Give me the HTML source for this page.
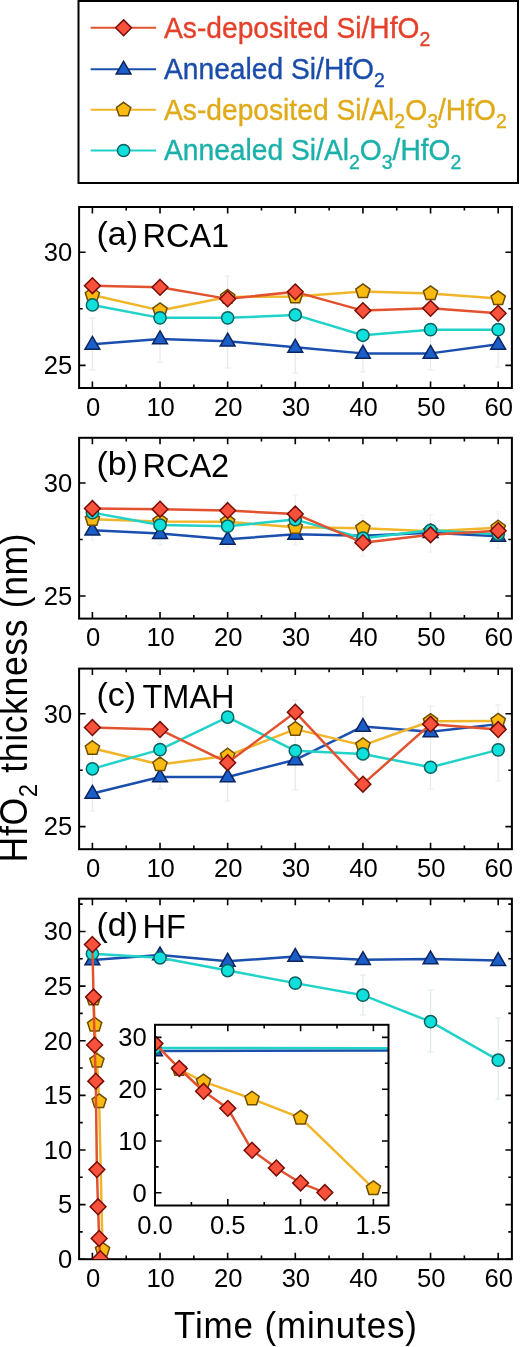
<!DOCTYPE html>
<html><head><meta charset="utf-8"><title>HfO2 thickness vs time</title>
<style>html,body{margin:0;padding:0;background:#fff;}svg{display:block;}</style></head>
<body><svg width="520" height="1347" viewBox="0 0 520 1347" font-family="'Liberation Sans', Arial, sans-serif" font-size="25.6" fill="#000">
<rect width="520" height="1347" fill="#fff"/>
<defs>
<clipPath id="cd"><rect x="79.1" y="898.7" width="432.79999999999995" height="360.5"/></clipPath>
<clipPath id="ci"><rect x="155" y="1024.8" width="233.5" height="180.70000000000005"/></clipPath>
</defs>
<rect x="78.5" y="1" width="439.5" height="182" fill="#fff" stroke="#000" stroke-width="2"/>
<path d="M90.7 27.8H156.1" stroke="#E2522F" stroke-width="2"/>
<path d="M123.60 19.90L131.50 27.80L123.60 35.70L115.70 27.80Z" fill="#F8513C" stroke="#780C04" stroke-width="1.5" stroke-linejoin="miter"/>
<text transform="translate(164 37.7) scale(1 1.05)" font-size="28.2" fill="#E5402A" stroke="#E5402A" stroke-width="0.35">As-deposited Si/HfO<tspan dy="8" font-size="19.5">2</tspan></text>
<path d="M90.7 69.2H156.1" stroke="#1A4FAE" stroke-width="2"/>
<path d="M123.60 61.26L131.00 74.07L116.20 74.07Z" fill="#1B5EC8" stroke="#0A2560" stroke-width="1.5" stroke-linejoin="miter"/>
<text transform="translate(164 78.6) scale(1 1.05)" font-size="28.2" fill="#1A4DAA" stroke="#1A4DAA" stroke-width="0.35">Annealed Si/HfO<tspan dy="8" font-size="19.5">2</tspan></text>
<path d="M90.7 109.8H156.1" stroke="#F1B52A" stroke-width="2"/>
<path d="M123.60 102.30L130.73 107.48L128.01 115.87L119.19 115.87L116.47 107.48Z" fill="#FBBA10" stroke="#6E4C00" stroke-width="1.5" stroke-linejoin="miter"/>
<text transform="translate(164 119.6) scale(1 1.05)" font-size="28.2" fill="#E0AA18" stroke="#E0AA18" stroke-width="0.35">As-deposited Si/Al<tspan dy="8" font-size="19.5">2</tspan><tspan dy="-8">O</tspan><tspan dy="8" font-size="19.5">3</tspan><tspan dy="-8">/HfO</tspan><tspan dy="8" font-size="19.5">2</tspan></text>
<path d="M90.7 150.5H156.1" stroke="#20D2C8" stroke-width="2"/>
<circle cx="123.60" cy="150.50" r="6.1" fill="#10E0DC" stroke="#0A6060" stroke-width="1.5"/>
<text transform="translate(164 160.3) scale(1 1.05)" font-size="28.2" fill="#1BB0AA" stroke="#1BB0AA" stroke-width="0.35">Annealed Si/Al<tspan dy="8" font-size="19.5">2</tspan><tspan dy="-8">O</tspan><tspan dy="8" font-size="19.5">3</tspan><tspan dy="-8">/HfO</tspan><tspan dy="8" font-size="19.5">2</tspan></text>
<path d="M92.40 318.00V370.00M89.40 318.00h6M89.40 370.00h6" stroke="#e9e9e9" stroke-width="1.2" fill="none"/>
<path d="M160.03 315.00V362.00M157.03 315.00h6M157.03 362.00h6" stroke="#e9e9e9" stroke-width="1.2" fill="none"/>
<path d="M227.66 276.00V368.00M224.66 276.00h6M224.66 368.00h6" stroke="#e9e9e9" stroke-width="1.2" fill="none"/>
<path d="M295.29 300.00V373.00M292.29 300.00h6M292.29 373.00h6" stroke="#e9e9e9" stroke-width="1.2" fill="none"/>
<path d="M362.92 330.00V372.00M359.92 330.00h6M359.92 372.00h6" stroke="#e9e9e9" stroke-width="1.2" fill="none"/>
<path d="M430.55 335.00V370.00M427.55 335.00h6M427.55 370.00h6" stroke="#e9e9e9" stroke-width="1.2" fill="none"/>
<path d="M498.18 349.00V367.00M495.18 349.00h6M495.18 367.00h6" stroke="#e9e9e9" stroke-width="1.2" fill="none"/>
<rect x="79.1" y="207.0" width="432.80" height="181.00" fill="none" stroke="#000" stroke-width="2"/>
<path d="M79.1 365.38h6.5M511.9 365.38h-6.5M79.1 252.25h6.5M511.9 252.25h-6.5M79.1 308.81h3.6M511.9 308.81h-3.6M92.40 207.0v6.5M92.40 388.0v-6.5M160.03 207.0v6.5M160.03 388.0v-6.5M227.66 207.0v6.5M227.66 388.0v-6.5M295.29 207.0v6.5M295.29 388.0v-6.5M362.92 207.0v6.5M362.92 388.0v-6.5M430.55 207.0v6.5M430.55 388.0v-6.5M498.18 207.0v6.5M498.18 388.0v-6.5M126.22 207.0v3.6M126.22 388.0v-3.6M193.84 207.0v3.6M193.84 388.0v-3.6M261.48 207.0v3.6M261.48 388.0v-3.6M329.11 207.0v3.6M329.11 388.0v-3.6M396.74 207.0v3.6M396.74 388.0v-3.6M464.37 207.0v3.6M464.37 388.0v-3.6" stroke="#000" stroke-width="1.6" fill="none"/>
<g>
<path d="M92.40 344.33L160.03 338.90L227.66 341.17L295.29 347.27L362.92 353.38L430.55 353.38L498.18 344.33" fill="none" stroke="#1A4FAE" stroke-width="2.5" stroke-linejoin="round"/>
<path d="M92.40 336.39L99.80 349.21L85.00 349.21Z" fill="#1B5EC8" stroke="#0A2560" stroke-width="1.5" stroke-linejoin="miter"/>
<path d="M160.03 330.96L167.43 343.78L152.63 343.78Z" fill="#1B5EC8" stroke="#0A2560" stroke-width="1.5" stroke-linejoin="miter"/>
<path d="M227.66 333.22L235.06 346.04L220.26 346.04Z" fill="#1B5EC8" stroke="#0A2560" stroke-width="1.5" stroke-linejoin="miter"/>
<path d="M295.29 339.33L302.69 352.15L287.89 352.15Z" fill="#1B5EC8" stroke="#0A2560" stroke-width="1.5" stroke-linejoin="miter"/>
<path d="M362.92 345.44L370.32 358.26L355.52 358.26Z" fill="#1B5EC8" stroke="#0A2560" stroke-width="1.5" stroke-linejoin="miter"/>
<path d="M430.55 345.44L437.95 358.26L423.15 358.26Z" fill="#1B5EC8" stroke="#0A2560" stroke-width="1.5" stroke-linejoin="miter"/>
<path d="M498.18 336.39L505.58 349.21L490.78 349.21Z" fill="#1B5EC8" stroke="#0A2560" stroke-width="1.5" stroke-linejoin="miter"/>
</g>
<g>
<path d="M92.40 295.01L160.03 310.40L227.66 297.05L295.29 296.60L362.92 291.39L430.55 293.43L498.18 298.40" fill="none" stroke="#F1B52A" stroke-width="2.5" stroke-linejoin="round"/>
<path d="M92.40 287.51L99.53 292.69L96.81 301.08L87.99 301.08L85.27 292.69Z" fill="#FBBA10" stroke="#6E4C00" stroke-width="1.5" stroke-linejoin="miter"/>
<path d="M160.03 302.90L167.16 308.08L164.44 316.46L155.62 316.46L152.90 308.08Z" fill="#FBBA10" stroke="#6E4C00" stroke-width="1.5" stroke-linejoin="miter"/>
<path d="M227.66 289.55L234.79 294.73L232.07 303.12L223.25 303.12L220.53 294.73Z" fill="#FBBA10" stroke="#6E4C00" stroke-width="1.5" stroke-linejoin="miter"/>
<path d="M295.29 289.10L302.42 294.28L299.70 302.66L290.88 302.66L288.16 294.28Z" fill="#FBBA10" stroke="#6E4C00" stroke-width="1.5" stroke-linejoin="miter"/>
<path d="M362.92 283.89L370.05 289.07L367.33 297.46L358.51 297.46L355.79 289.07Z" fill="#FBBA10" stroke="#6E4C00" stroke-width="1.5" stroke-linejoin="miter"/>
<path d="M430.55 285.93L437.68 291.11L434.96 299.50L426.14 299.50L423.42 291.11Z" fill="#FBBA10" stroke="#6E4C00" stroke-width="1.5" stroke-linejoin="miter"/>
<path d="M498.18 290.90L505.31 296.09L502.59 304.47L493.77 304.47L491.05 296.09Z" fill="#FBBA10" stroke="#6E4C00" stroke-width="1.5" stroke-linejoin="miter"/>
</g>
<g>
<path d="M92.40 304.97L160.03 317.86L227.66 317.86L295.29 314.92L362.92 335.28L430.55 329.63L498.18 329.63" fill="none" stroke="#20D2C8" stroke-width="2.5" stroke-linejoin="round"/>
<circle cx="92.40" cy="304.97" r="6.1" fill="#10E0DC" stroke="#0A6060" stroke-width="1.5"/>
<circle cx="160.03" cy="317.86" r="6.1" fill="#10E0DC" stroke="#0A6060" stroke-width="1.5"/>
<circle cx="227.66" cy="317.86" r="6.1" fill="#10E0DC" stroke="#0A6060" stroke-width="1.5"/>
<circle cx="295.29" cy="314.92" r="6.1" fill="#10E0DC" stroke="#0A6060" stroke-width="1.5"/>
<circle cx="362.92" cy="335.28" r="6.1" fill="#10E0DC" stroke="#0A6060" stroke-width="1.5"/>
<circle cx="430.55" cy="329.63" r="6.1" fill="#10E0DC" stroke="#0A6060" stroke-width="1.5"/>
<circle cx="498.18" cy="329.63" r="6.1" fill="#10E0DC" stroke="#0A6060" stroke-width="1.5"/>
</g>
<g>
<path d="M92.40 285.74L160.03 287.32L227.66 298.86L295.29 291.84L362.92 310.62L430.55 308.36L498.18 313.34" fill="none" stroke="#E2522F" stroke-width="2.5" stroke-linejoin="round"/>
<path d="M92.40 277.84L100.30 285.74L92.40 293.63L84.50 285.74Z" fill="#F8513C" stroke="#780C04" stroke-width="1.5" stroke-linejoin="miter"/>
<path d="M160.03 279.42L167.93 287.32L160.03 295.22L152.13 287.32Z" fill="#F8513C" stroke="#780C04" stroke-width="1.5" stroke-linejoin="miter"/>
<path d="M227.66 290.96L235.56 298.86L227.66 306.76L219.76 298.86Z" fill="#F8513C" stroke="#780C04" stroke-width="1.5" stroke-linejoin="miter"/>
<path d="M295.29 283.94L303.19 291.84L295.29 299.74L287.39 291.84Z" fill="#F8513C" stroke="#780C04" stroke-width="1.5" stroke-linejoin="miter"/>
<path d="M362.92 302.72L370.82 310.62L362.92 318.52L355.02 310.62Z" fill="#F8513C" stroke="#780C04" stroke-width="1.5" stroke-linejoin="miter"/>
<path d="M430.55 300.46L438.45 308.36L430.55 316.26L422.65 308.36Z" fill="#F8513C" stroke="#780C04" stroke-width="1.5" stroke-linejoin="miter"/>
<path d="M498.18 305.44L506.08 313.34L498.18 321.24L490.28 313.34Z" fill="#F8513C" stroke="#780C04" stroke-width="1.5" stroke-linejoin="miter"/>
</g>
<text x="72.3" y="374.18" text-anchor="end">25</text>
<text x="72.3" y="261.05" text-anchor="end">30</text>
<text x="93.00" y="415.60" text-anchor="middle">0</text>
<text x="160.63" y="415.60" text-anchor="middle">10</text>
<text x="228.26" y="415.60" text-anchor="middle">20</text>
<text x="295.89" y="415.60" text-anchor="middle">30</text>
<text x="363.52" y="415.60" text-anchor="middle">40</text>
<text x="431.15" y="415.60" text-anchor="middle">50</text>
<text x="498.78" y="415.60" text-anchor="middle">60</text>
<text x="96.5" y="244.50" font-size="34">(a)</text>
<text x="142.5" y="246.60" font-size="32.5">RCA1</text>
<path d="M92.40 500.00V540.00M89.40 500.00h6M89.40 540.00h6" stroke="#f0f0f0" stroke-width="1.2" fill="none"/>
<path d="M160.03 500.00V545.00M157.03 500.00h6M157.03 545.00h6" stroke="#f0f0f0" stroke-width="1.2" fill="none"/>
<path d="M227.66 500.00V548.00M224.66 500.00h6M224.66 548.00h6" stroke="#f0f0f0" stroke-width="1.2" fill="none"/>
<path d="M295.29 495.00V545.00M292.29 495.00h6M292.29 545.00h6" stroke="#f0f0f0" stroke-width="1.2" fill="none"/>
<path d="M362.92 515.00V556.00M359.92 515.00h6M359.92 556.00h6" stroke="#f0f0f0" stroke-width="1.2" fill="none"/>
<path d="M430.55 515.00V552.00M427.55 515.00h6M427.55 552.00h6" stroke="#f0f0f0" stroke-width="1.2" fill="none"/>
<path d="M498.18 512.00V548.00M495.18 512.00h6M495.18 548.00h6" stroke="#f0f0f0" stroke-width="1.2" fill="none"/>
<rect x="79.1" y="437.8" width="432.80" height="180.80" fill="none" stroke="#000" stroke-width="2"/>
<path d="M79.1 596.00h6.5M511.9 596.00h-6.5M79.1 483.00h6.5M511.9 483.00h-6.5M79.1 539.50h3.6M511.9 539.50h-3.6M92.40 437.8v6.5M92.40 618.6v-6.5M160.03 437.8v6.5M160.03 618.6v-6.5M227.66 437.8v6.5M227.66 618.6v-6.5M295.29 437.8v6.5M295.29 618.6v-6.5M362.92 437.8v6.5M362.92 618.6v-6.5M430.55 437.8v6.5M430.55 618.6v-6.5M498.18 437.8v6.5M498.18 618.6v-6.5M126.22 437.8v3.6M126.22 618.6v-3.6M193.84 437.8v3.6M193.84 618.6v-3.6M261.48 437.8v3.6M261.48 618.6v-3.6M329.11 437.8v3.6M329.11 618.6v-3.6M396.74 437.8v3.6M396.74 618.6v-3.6M464.37 437.8v3.6M464.37 618.6v-3.6" stroke="#000" stroke-width="1.6" fill="none"/>
<g>
<path d="M92.40 530.23L160.03 533.62L227.66 539.27L295.29 534.30L362.92 535.66L430.55 532.72L498.18 536.34" fill="none" stroke="#1A4FAE" stroke-width="2.5" stroke-linejoin="round"/>
<path d="M92.40 522.29L99.80 535.11L85.00 535.11Z" fill="#1B5EC8" stroke="#0A2560" stroke-width="1.5" stroke-linejoin="miter"/>
<path d="M160.03 525.68L167.43 538.50L152.63 538.50Z" fill="#1B5EC8" stroke="#0A2560" stroke-width="1.5" stroke-linejoin="miter"/>
<path d="M227.66 531.33L235.06 544.15L220.26 544.15Z" fill="#1B5EC8" stroke="#0A2560" stroke-width="1.5" stroke-linejoin="miter"/>
<path d="M295.29 526.36L302.69 539.17L287.89 539.17Z" fill="#1B5EC8" stroke="#0A2560" stroke-width="1.5" stroke-linejoin="miter"/>
<path d="M362.92 527.71L370.32 540.53L355.52 540.53Z" fill="#1B5EC8" stroke="#0A2560" stroke-width="1.5" stroke-linejoin="miter"/>
<path d="M430.55 524.78L437.95 537.59L423.15 537.59Z" fill="#1B5EC8" stroke="#0A2560" stroke-width="1.5" stroke-linejoin="miter"/>
<path d="M498.18 528.39L505.58 541.21L490.78 541.21Z" fill="#1B5EC8" stroke="#0A2560" stroke-width="1.5" stroke-linejoin="miter"/>
</g>
<g>
<path d="M92.40 519.16L160.03 521.42L227.66 521.87L295.29 527.30L362.92 528.20L430.55 531.36L498.18 527.75" fill="none" stroke="#F1B52A" stroke-width="2.5" stroke-linejoin="round"/>
<path d="M92.40 511.66L99.53 516.84L96.81 525.23L87.99 525.23L85.27 516.84Z" fill="#FBBA10" stroke="#6E4C00" stroke-width="1.5" stroke-linejoin="miter"/>
<path d="M160.03 513.92L167.16 519.10L164.44 527.49L155.62 527.49L152.90 519.10Z" fill="#FBBA10" stroke="#6E4C00" stroke-width="1.5" stroke-linejoin="miter"/>
<path d="M227.66 514.37L234.79 519.55L232.07 527.94L223.25 527.94L220.53 519.55Z" fill="#FBBA10" stroke="#6E4C00" stroke-width="1.5" stroke-linejoin="miter"/>
<path d="M295.29 519.80L302.42 524.98L299.70 533.36L290.88 533.36L288.16 524.98Z" fill="#FBBA10" stroke="#6E4C00" stroke-width="1.5" stroke-linejoin="miter"/>
<path d="M362.92 520.70L370.05 525.88L367.33 534.27L358.51 534.27L355.79 525.88Z" fill="#FBBA10" stroke="#6E4C00" stroke-width="1.5" stroke-linejoin="miter"/>
<path d="M430.55 523.86L437.68 529.05L434.96 537.43L426.14 537.43L423.42 529.05Z" fill="#FBBA10" stroke="#6E4C00" stroke-width="1.5" stroke-linejoin="miter"/>
<path d="M498.18 520.25L505.31 525.43L502.59 533.82L493.77 533.82L491.05 525.43Z" fill="#FBBA10" stroke="#6E4C00" stroke-width="1.5" stroke-linejoin="miter"/>
</g>
<g>
<path d="M92.40 512.61L160.03 525.04L227.66 526.17L295.29 519.61L362.92 538.14L430.55 530.23L498.18 534.30" fill="none" stroke="#20D2C8" stroke-width="2.5" stroke-linejoin="round"/>
<circle cx="92.40" cy="512.61" r="6.1" fill="#10E0DC" stroke="#0A6060" stroke-width="1.5"/>
<circle cx="160.03" cy="525.04" r="6.1" fill="#10E0DC" stroke="#0A6060" stroke-width="1.5"/>
<circle cx="227.66" cy="526.17" r="6.1" fill="#10E0DC" stroke="#0A6060" stroke-width="1.5"/>
<circle cx="295.29" cy="519.61" r="6.1" fill="#10E0DC" stroke="#0A6060" stroke-width="1.5"/>
<circle cx="362.92" cy="538.14" r="6.1" fill="#10E0DC" stroke="#0A6060" stroke-width="1.5"/>
<circle cx="430.55" cy="530.23" r="6.1" fill="#10E0DC" stroke="#0A6060" stroke-width="1.5"/>
<circle cx="498.18" cy="534.30" r="6.1" fill="#10E0DC" stroke="#0A6060" stroke-width="1.5"/>
</g>
<g>
<path d="M92.40 508.54L160.03 509.22L227.66 510.57L295.29 513.96L362.92 542.66L430.55 534.75L498.18 530.69" fill="none" stroke="#E2522F" stroke-width="2.5" stroke-linejoin="round"/>
<path d="M92.40 500.64L100.30 508.54L92.40 516.44L84.50 508.54Z" fill="#F8513C" stroke="#780C04" stroke-width="1.5" stroke-linejoin="miter"/>
<path d="M160.03 501.32L167.93 509.22L160.03 517.12L152.13 509.22Z" fill="#F8513C" stroke="#780C04" stroke-width="1.5" stroke-linejoin="miter"/>
<path d="M227.66 502.67L235.56 510.57L227.66 518.47L219.76 510.57Z" fill="#F8513C" stroke="#780C04" stroke-width="1.5" stroke-linejoin="miter"/>
<path d="M295.29 506.06L303.19 513.96L295.29 521.86L287.39 513.96Z" fill="#F8513C" stroke="#780C04" stroke-width="1.5" stroke-linejoin="miter"/>
<path d="M362.92 534.76L370.82 542.66L362.92 550.56L355.02 542.66Z" fill="#F8513C" stroke="#780C04" stroke-width="1.5" stroke-linejoin="miter"/>
<path d="M430.55 526.85L438.45 534.75L430.55 542.65L422.65 534.75Z" fill="#F8513C" stroke="#780C04" stroke-width="1.5" stroke-linejoin="miter"/>
<path d="M498.18 522.79L506.08 530.69L498.18 538.59L490.28 530.69Z" fill="#F8513C" stroke="#780C04" stroke-width="1.5" stroke-linejoin="miter"/>
</g>
<text x="72.3" y="604.80" text-anchor="end">25</text>
<text x="72.3" y="491.80" text-anchor="end">30</text>
<text x="93.00" y="646.20" text-anchor="middle">0</text>
<text x="160.63" y="646.20" text-anchor="middle">10</text>
<text x="228.26" y="646.20" text-anchor="middle">20</text>
<text x="295.89" y="646.20" text-anchor="middle">30</text>
<text x="363.52" y="646.20" text-anchor="middle">40</text>
<text x="431.15" y="646.20" text-anchor="middle">50</text>
<text x="498.78" y="646.20" text-anchor="middle">60</text>
<text x="96.5" y="475.30" font-size="34">(b)</text>
<text x="142.5" y="477.40" font-size="32.5">RCA2</text>
<path d="M92.40 720.00V811.00M89.40 720.00h6M89.40 811.00h6" stroke="#e9e9e9" stroke-width="1.2" fill="none"/>
<path d="M160.03 740.00V789.00M157.03 740.00h6M157.03 789.00h6" stroke="#e9e9e9" stroke-width="1.2" fill="none"/>
<path d="M227.66 745.00V801.00M224.66 745.00h6M224.66 801.00h6" stroke="#e9e9e9" stroke-width="1.2" fill="none"/>
<path d="M295.29 700.00V790.00M292.29 700.00h6M292.29 790.00h6" stroke="#e9e9e9" stroke-width="1.2" fill="none"/>
<path d="M362.92 697.00V760.00M359.92 697.00h6M359.92 760.00h6" stroke="#e9e9e9" stroke-width="1.2" fill="none"/>
<path d="M430.55 706.00V789.00M427.55 706.00h6M427.55 789.00h6" stroke="#e9e9e9" stroke-width="1.2" fill="none"/>
<path d="M498.18 705.00V781.00M495.18 705.00h6M495.18 781.00h6" stroke="#e9e9e9" stroke-width="1.2" fill="none"/>
<rect x="79.1" y="668.6" width="432.80" height="180.60" fill="none" stroke="#000" stroke-width="2"/>
<path d="M79.1 826.62h6.5M511.9 826.62h-6.5M79.1 713.75h6.5M511.9 713.75h-6.5M79.1 770.19h3.6M511.9 770.19h-3.6M92.40 668.6v6.5M92.40 849.2v-6.5M160.03 668.6v6.5M160.03 849.2v-6.5M227.66 668.6v6.5M227.66 849.2v-6.5M295.29 668.6v6.5M295.29 849.2v-6.5M362.92 668.6v6.5M362.92 849.2v-6.5M430.55 668.6v6.5M430.55 849.2v-6.5M498.18 668.6v6.5M498.18 849.2v-6.5M126.22 668.6v3.6M126.22 849.2v-3.6M193.84 668.6v3.6M193.84 849.2v-3.6M261.48 668.6v3.6M261.48 849.2v-3.6M329.11 668.6v3.6M329.11 849.2v-3.6M396.74 668.6v3.6M396.74 849.2v-3.6M464.37 668.6v3.6M464.37 849.2v-3.6" stroke="#000" stroke-width="1.6" fill="none"/>
<g>
<path d="M92.40 793.44L160.03 776.96L227.66 776.96L295.29 759.80L362.92 726.39L430.55 731.81L498.18 724.13" fill="none" stroke="#1A4FAE" stroke-width="2.5" stroke-linejoin="round"/>
<path d="M92.40 785.49L99.80 798.31L85.00 798.31Z" fill="#1B5EC8" stroke="#0A2560" stroke-width="1.5" stroke-linejoin="miter"/>
<path d="M160.03 769.02L167.43 781.83L152.63 781.83Z" fill="#1B5EC8" stroke="#0A2560" stroke-width="1.5" stroke-linejoin="miter"/>
<path d="M227.66 769.02L235.06 781.83L220.26 781.83Z" fill="#1B5EC8" stroke="#0A2560" stroke-width="1.5" stroke-linejoin="miter"/>
<path d="M295.29 751.86L302.69 764.68L287.89 764.68Z" fill="#1B5EC8" stroke="#0A2560" stroke-width="1.5" stroke-linejoin="miter"/>
<path d="M362.92 718.45L370.32 731.26L355.52 731.26Z" fill="#1B5EC8" stroke="#0A2560" stroke-width="1.5" stroke-linejoin="miter"/>
<path d="M430.55 723.87L437.95 736.68L423.15 736.68Z" fill="#1B5EC8" stroke="#0A2560" stroke-width="1.5" stroke-linejoin="miter"/>
<path d="M498.18 716.19L505.58 729.01L490.78 729.01Z" fill="#1B5EC8" stroke="#0A2560" stroke-width="1.5" stroke-linejoin="miter"/>
</g>
<g>
<path d="M92.40 748.29L160.03 764.54L227.66 755.74L295.29 729.10L362.92 745.36L430.55 721.20L498.18 720.97" fill="none" stroke="#F1B52A" stroke-width="2.5" stroke-linejoin="round"/>
<path d="M92.40 740.79L99.53 745.97L96.81 754.36L87.99 754.36L85.27 745.97Z" fill="#FBBA10" stroke="#6E4C00" stroke-width="1.5" stroke-linejoin="miter"/>
<path d="M160.03 757.04L167.16 762.23L164.44 770.61L155.62 770.61L152.90 762.23Z" fill="#FBBA10" stroke="#6E4C00" stroke-width="1.5" stroke-linejoin="miter"/>
<path d="M227.66 748.24L234.79 753.42L232.07 761.81L223.25 761.81L220.53 753.42Z" fill="#FBBA10" stroke="#6E4C00" stroke-width="1.5" stroke-linejoin="miter"/>
<path d="M295.29 721.60L302.42 726.78L299.70 735.17L290.88 735.17L288.16 726.78Z" fill="#FBBA10" stroke="#6E4C00" stroke-width="1.5" stroke-linejoin="miter"/>
<path d="M362.92 737.86L370.05 743.04L367.33 751.42L358.51 751.42L355.79 743.04Z" fill="#FBBA10" stroke="#6E4C00" stroke-width="1.5" stroke-linejoin="miter"/>
<path d="M430.55 713.70L437.68 718.88L434.96 727.27L426.14 727.27L423.42 718.88Z" fill="#FBBA10" stroke="#6E4C00" stroke-width="1.5" stroke-linejoin="miter"/>
<path d="M498.18 713.47L505.31 718.66L502.59 727.04L493.77 727.04L491.05 718.66Z" fill="#FBBA10" stroke="#6E4C00" stroke-width="1.5" stroke-linejoin="miter"/>
</g>
<g>
<path d="M92.40 768.83L160.03 749.64L227.66 717.14L295.29 750.77L362.92 753.93L430.55 767.25L498.18 749.87" fill="none" stroke="#20D2C8" stroke-width="2.5" stroke-linejoin="round"/>
<circle cx="92.40" cy="768.83" r="6.1" fill="#10E0DC" stroke="#0A6060" stroke-width="1.5"/>
<circle cx="160.03" cy="749.64" r="6.1" fill="#10E0DC" stroke="#0A6060" stroke-width="1.5"/>
<circle cx="227.66" cy="717.14" r="6.1" fill="#10E0DC" stroke="#0A6060" stroke-width="1.5"/>
<circle cx="295.29" cy="750.77" r="6.1" fill="#10E0DC" stroke="#0A6060" stroke-width="1.5"/>
<circle cx="362.92" cy="753.93" r="6.1" fill="#10E0DC" stroke="#0A6060" stroke-width="1.5"/>
<circle cx="430.55" cy="767.25" r="6.1" fill="#10E0DC" stroke="#0A6060" stroke-width="1.5"/>
<circle cx="498.18" cy="749.87" r="6.1" fill="#10E0DC" stroke="#0A6060" stroke-width="1.5"/>
</g>
<g>
<path d="M92.40 727.52L160.03 729.55L227.66 762.74L295.29 712.17L362.92 784.18L430.55 724.13L498.18 729.55" fill="none" stroke="#E2522F" stroke-width="2.5" stroke-linejoin="round"/>
<path d="M92.40 719.62L100.30 727.52L92.40 735.42L84.50 727.52Z" fill="#F8513C" stroke="#780C04" stroke-width="1.5" stroke-linejoin="miter"/>
<path d="M160.03 721.65L167.93 729.55L160.03 737.45L152.13 729.55Z" fill="#F8513C" stroke="#780C04" stroke-width="1.5" stroke-linejoin="miter"/>
<path d="M227.66 754.84L235.56 762.74L227.66 770.64L219.76 762.74Z" fill="#F8513C" stroke="#780C04" stroke-width="1.5" stroke-linejoin="miter"/>
<path d="M295.29 704.27L303.19 712.17L295.29 720.07L287.39 712.17Z" fill="#F8513C" stroke="#780C04" stroke-width="1.5" stroke-linejoin="miter"/>
<path d="M362.92 776.28L370.82 784.18L362.92 792.08L355.02 784.18Z" fill="#F8513C" stroke="#780C04" stroke-width="1.5" stroke-linejoin="miter"/>
<path d="M430.55 716.23L438.45 724.13L430.55 732.03L422.65 724.13Z" fill="#F8513C" stroke="#780C04" stroke-width="1.5" stroke-linejoin="miter"/>
<path d="M498.18 721.65L506.08 729.55L498.18 737.45L490.28 729.55Z" fill="#F8513C" stroke="#780C04" stroke-width="1.5" stroke-linejoin="miter"/>
</g>
<text x="72.3" y="835.42" text-anchor="end">25</text>
<text x="72.3" y="722.55" text-anchor="end">30</text>
<text x="93.00" y="876.80" text-anchor="middle">0</text>
<text x="160.63" y="876.80" text-anchor="middle">10</text>
<text x="228.26" y="876.80" text-anchor="middle">20</text>
<text x="295.89" y="876.80" text-anchor="middle">30</text>
<text x="363.52" y="876.80" text-anchor="middle">40</text>
<text x="431.15" y="876.80" text-anchor="middle">50</text>
<text x="498.78" y="876.80" text-anchor="middle">60</text>
<text x="96.5" y="706.10" font-size="34">(c)</text>
<text x="142.5" y="708.20" font-size="32.5">TMAH</text>
<path d="M362.92 975.00V1015.00M359.92 975.00h6M359.92 1015.00h6" stroke="#dfeaea" stroke-width="1.2" fill="none"/>
<path d="M430.55 990.00V1052.00M427.55 990.00h6M427.55 1052.00h6" stroke="#dfeaea" stroke-width="1.2" fill="none"/>
<path d="M498.18 1018.00V1099.00M495.18 1018.00h6M495.18 1099.00h6" stroke="#dfeaea" stroke-width="1.2" fill="none"/>
<rect x="79.1" y="898.7" width="432.80" height="360.50" fill="none" stroke="#000" stroke-width="2"/>
<path d="M79.1 1259.20h6.5M511.9 1259.20h-6.5M79.1 1204.58h6.5M511.9 1204.58h-6.5M79.1 1149.96h6.5M511.9 1149.96h-6.5M79.1 1095.34h6.5M511.9 1095.34h-6.5M79.1 1040.72h6.5M511.9 1040.72h-6.5M79.1 986.09h6.5M511.9 986.09h-6.5M79.1 931.47h6.5M511.9 931.47h-6.5M79.1 1231.89h3.6M511.9 1231.89h-3.6M79.1 1177.27h3.6M511.9 1177.27h-3.6M79.1 1122.65h3.6M511.9 1122.65h-3.6M79.1 1068.03h3.6M511.9 1068.03h-3.6M79.1 1013.40h3.6M511.9 1013.40h-3.6M79.1 958.78h3.6M511.9 958.78h-3.6M79.1 904.16h3.6M511.9 904.16h-3.6M92.40 898.7v6.5M92.40 1259.2v-6.5M160.03 898.7v6.5M160.03 1259.2v-6.5M227.66 898.7v6.5M227.66 1259.2v-6.5M295.29 898.7v6.5M295.29 1259.2v-6.5M362.92 898.7v6.5M362.92 1259.2v-6.5M430.55 898.7v6.5M430.55 1259.2v-6.5M498.18 898.7v6.5M498.18 1259.2v-6.5M126.22 898.7v3.6M126.22 1259.2v-3.6M193.84 898.7v3.6M193.84 1259.2v-3.6M261.48 898.7v3.6M261.48 1259.2v-3.6M329.11 898.7v3.6M329.11 1259.2v-3.6M396.74 898.7v3.6M396.74 1259.2v-3.6M464.37 898.7v3.6M464.37 1259.2v-3.6" stroke="#000" stroke-width="1.6" fill="none"/>
<g clip-path="url(#cd)">
<path d="M92.40 959.99L160.03 954.96L227.66 961.30L295.29 956.49L362.92 959.66L430.55 959.00L498.18 960.53" fill="none" stroke="#1A4FAE" stroke-width="2.5" stroke-linejoin="round"/>
<path d="M92.40 952.04L99.80 964.86L85.00 964.86Z" fill="#1B5EC8" stroke="#0A2560" stroke-width="1.5" stroke-linejoin="miter"/>
<path d="M160.03 947.02L167.43 959.83L152.63 959.83Z" fill="#1B5EC8" stroke="#0A2560" stroke-width="1.5" stroke-linejoin="miter"/>
<path d="M227.66 953.35L235.06 966.17L220.26 966.17Z" fill="#1B5EC8" stroke="#0A2560" stroke-width="1.5" stroke-linejoin="miter"/>
<path d="M295.29 948.54L302.69 961.36L287.89 961.36Z" fill="#1B5EC8" stroke="#0A2560" stroke-width="1.5" stroke-linejoin="miter"/>
<path d="M362.92 951.71L370.32 964.53L355.52 964.53Z" fill="#1B5EC8" stroke="#0A2560" stroke-width="1.5" stroke-linejoin="miter"/>
<path d="M430.55 951.06L437.95 963.87L423.15 963.87Z" fill="#1B5EC8" stroke="#0A2560" stroke-width="1.5" stroke-linejoin="miter"/>
<path d="M498.18 952.59L505.58 965.40L490.78 965.40Z" fill="#1B5EC8" stroke="#0A2560" stroke-width="1.5" stroke-linejoin="miter"/>
</g>
<g clip-path="url(#cd)">
<path d="M93.53 998.66L94.65 1024.88L96.91 1060.92L99.16 1101.34L102.54 1249.91" fill="none" stroke="#F1B52A" stroke-width="2.5" stroke-linejoin="round"/>
<path d="M93.53 991.16L100.66 996.34L97.94 1004.72L89.12 1004.72L86.39 996.34Z" fill="#FBBA10" stroke="#6E4C00" stroke-width="1.5" stroke-linejoin="miter"/>
<path d="M94.65 1017.38L101.79 1022.56L99.06 1030.94L90.25 1030.94L87.52 1022.56Z" fill="#FBBA10" stroke="#6E4C00" stroke-width="1.5" stroke-linejoin="miter"/>
<path d="M96.91 1053.42L104.04 1058.61L101.32 1066.99L92.50 1066.99L89.78 1058.61Z" fill="#FBBA10" stroke="#6E4C00" stroke-width="1.5" stroke-linejoin="miter"/>
<path d="M99.16 1093.84L106.30 1099.03L103.57 1107.41L94.75 1107.41L92.03 1099.03Z" fill="#FBBA10" stroke="#6E4C00" stroke-width="1.5" stroke-linejoin="miter"/>
<path d="M102.54 1242.41L109.68 1247.60L106.95 1255.98L98.14 1255.98L95.41 1247.60Z" fill="#FBBA10" stroke="#6E4C00" stroke-width="1.5" stroke-linejoin="miter"/>
</g>
<g clip-path="url(#cd)">
<path d="M92.40 953.76L160.03 957.80L227.66 970.58L295.29 983.14L362.92 995.16L430.55 1021.71L498.18 1060.16" fill="none" stroke="#20D2C8" stroke-width="2.5" stroke-linejoin="round"/>
<circle cx="92.40" cy="953.76" r="6.1" fill="#10E0DC" stroke="#0A6060" stroke-width="1.5"/>
<circle cx="160.03" cy="957.80" r="6.1" fill="#10E0DC" stroke="#0A6060" stroke-width="1.5"/>
<circle cx="227.66" cy="970.58" r="6.1" fill="#10E0DC" stroke="#0A6060" stroke-width="1.5"/>
<circle cx="295.29" cy="983.14" r="6.1" fill="#10E0DC" stroke="#0A6060" stroke-width="1.5"/>
<circle cx="362.92" cy="995.16" r="6.1" fill="#10E0DC" stroke="#0A6060" stroke-width="1.5"/>
<circle cx="430.55" cy="1021.71" r="6.1" fill="#10E0DC" stroke="#0A6060" stroke-width="1.5"/>
<circle cx="498.18" cy="1060.16" r="6.1" fill="#10E0DC" stroke="#0A6060" stroke-width="1.5"/>
</g>
<g clip-path="url(#cd)">
<path d="M92.40 944.58L93.53 997.02L94.65 1045.08L95.78 1081.13L96.91 1169.62L98.04 1206.76L99.16 1238.44L100.29 1258.65" fill="none" stroke="#E2522F" stroke-width="2.5" stroke-linejoin="round"/>
<path d="M92.40 936.68L100.30 944.58L92.40 952.48L84.50 944.58Z" fill="#F8513C" stroke="#780C04" stroke-width="1.5" stroke-linejoin="miter"/>
<path d="M93.53 989.12L101.43 997.02L93.53 1004.92L85.63 997.02Z" fill="#F8513C" stroke="#780C04" stroke-width="1.5" stroke-linejoin="miter"/>
<path d="M94.65 1037.18L102.55 1045.08L94.65 1052.98L86.75 1045.08Z" fill="#F8513C" stroke="#780C04" stroke-width="1.5" stroke-linejoin="miter"/>
<path d="M95.78 1073.23L103.68 1081.13L95.78 1089.03L87.88 1081.13Z" fill="#F8513C" stroke="#780C04" stroke-width="1.5" stroke-linejoin="miter"/>
<path d="M96.91 1161.72L104.81 1169.62L96.91 1177.52L89.01 1169.62Z" fill="#F8513C" stroke="#780C04" stroke-width="1.5" stroke-linejoin="miter"/>
<path d="M98.04 1198.86L105.94 1206.76L98.04 1214.66L90.14 1206.76Z" fill="#F8513C" stroke="#780C04" stroke-width="1.5" stroke-linejoin="miter"/>
<path d="M99.16 1230.54L107.06 1238.44L99.16 1246.34L91.26 1238.44Z" fill="#F8513C" stroke="#780C04" stroke-width="1.5" stroke-linejoin="miter"/>
<path d="M100.29 1250.75L108.19 1258.65L100.29 1266.55L92.39 1258.65Z" fill="#F8513C" stroke="#780C04" stroke-width="1.5" stroke-linejoin="miter"/>
</g>
<text x="72.3" y="1268.00" text-anchor="end">0</text>
<text x="72.3" y="1213.38" text-anchor="end">5</text>
<text x="72.3" y="1158.76" text-anchor="end">10</text>
<text x="72.3" y="1104.14" text-anchor="end">15</text>
<text x="72.3" y="1049.52" text-anchor="end">20</text>
<text x="72.3" y="994.89" text-anchor="end">25</text>
<text x="72.3" y="940.27" text-anchor="end">30</text>
<text x="93.00" y="1286.80" text-anchor="middle">0</text>
<text x="160.63" y="1286.80" text-anchor="middle">10</text>
<text x="228.26" y="1286.80" text-anchor="middle">20</text>
<text x="295.89" y="1286.80" text-anchor="middle">30</text>
<text x="363.52" y="1286.80" text-anchor="middle">40</text>
<text x="431.15" y="1286.80" text-anchor="middle">50</text>
<text x="498.78" y="1286.80" text-anchor="middle">60</text>
<text x="96.5" y="936.20" font-size="34">(d)</text>
<text x="142.5" y="938.30" font-size="32.5">HF</text>
<rect x="155" y="1024.8" width="233.5" height="180.70000000000005" fill="#fff"/>
<g clip-path="url(#ci)">
<path d="M155.00 1050.92L1611.00 1048.54L3067.00 1051.54L4523.00 1049.26L5979.00 1050.76L7435.00 1050.45L8891.00 1051.18" fill="none" stroke="#1A4FAE" stroke-width="2.5" stroke-linejoin="round"/>
<path d="M155.00 1042.98L162.40 1055.79L147.60 1055.79Z" fill="#1B5EC8" stroke="#0A2560" stroke-width="1.5" stroke-linejoin="miter"/>
<path d="M1611.00 1040.59L1618.40 1053.41L1603.60 1053.41Z" fill="#1B5EC8" stroke="#0A2560" stroke-width="1.5" stroke-linejoin="miter"/>
<path d="M3067.00 1043.60L3074.40 1056.41L3059.60 1056.41Z" fill="#1B5EC8" stroke="#0A2560" stroke-width="1.5" stroke-linejoin="miter"/>
<path d="M4523.00 1041.32L4530.40 1054.13L4515.60 1054.13Z" fill="#1B5EC8" stroke="#0A2560" stroke-width="1.5" stroke-linejoin="miter"/>
<path d="M5979.00 1042.82L5986.40 1055.64L5971.60 1055.64Z" fill="#1B5EC8" stroke="#0A2560" stroke-width="1.5" stroke-linejoin="miter"/>
<path d="M7435.00 1042.51L7442.40 1055.33L7427.60 1055.33Z" fill="#1B5EC8" stroke="#0A2560" stroke-width="1.5" stroke-linejoin="miter"/>
<path d="M8891.00 1043.23L8898.40 1056.05L8883.60 1056.05Z" fill="#1B5EC8" stroke="#0A2560" stroke-width="1.5" stroke-linejoin="miter"/>
</g>
<g clip-path="url(#ci)">
<path d="M179.27 1069.26L203.53 1081.69L252.07 1098.78L300.60 1117.95L373.40 1188.40" fill="none" stroke="#F1B52A" stroke-width="2.5" stroke-linejoin="round"/>
<path d="M179.27 1061.76L186.40 1066.94L183.68 1075.32L174.86 1075.32L172.13 1066.94Z" fill="#FBBA10" stroke="#6E4C00" stroke-width="1.5" stroke-linejoin="miter"/>
<path d="M203.53 1074.19L210.67 1079.37L207.94 1087.76L199.12 1087.76L196.40 1079.37Z" fill="#FBBA10" stroke="#6E4C00" stroke-width="1.5" stroke-linejoin="miter"/>
<path d="M252.07 1091.28L259.20 1096.47L256.48 1104.85L247.66 1104.85L244.93 1096.47Z" fill="#FBBA10" stroke="#6E4C00" stroke-width="1.5" stroke-linejoin="miter"/>
<path d="M300.60 1110.45L307.73 1115.63L305.01 1124.02L296.19 1124.02L293.47 1115.63Z" fill="#FBBA10" stroke="#6E4C00" stroke-width="1.5" stroke-linejoin="miter"/>
<path d="M373.40 1180.90L380.53 1186.08L377.81 1194.46L368.99 1194.46L366.27 1186.08Z" fill="#FBBA10" stroke="#6E4C00" stroke-width="1.5" stroke-linejoin="miter"/>
</g>
<g clip-path="url(#ci)">
<path d="M155.00 1047.97L1611.00 1049.88L3067.00 1055.94L4523.00 1061.90L5979.00 1067.60L7435.00 1080.19L8891.00 1098.42" fill="none" stroke="#20D2C8" stroke-width="2.5" stroke-linejoin="round"/>
<circle cx="155.00" cy="1047.97" r="6.1" fill="#10E0DC" stroke="#0A6060" stroke-width="1.5"/>
<circle cx="1611.00" cy="1049.88" r="6.1" fill="#10E0DC" stroke="#0A6060" stroke-width="1.5"/>
<circle cx="3067.00" cy="1055.94" r="6.1" fill="#10E0DC" stroke="#0A6060" stroke-width="1.5"/>
<circle cx="4523.00" cy="1061.90" r="6.1" fill="#10E0DC" stroke="#0A6060" stroke-width="1.5"/>
<circle cx="5979.00" cy="1067.60" r="6.1" fill="#10E0DC" stroke="#0A6060" stroke-width="1.5"/>
<circle cx="7435.00" cy="1080.19" r="6.1" fill="#10E0DC" stroke="#0A6060" stroke-width="1.5"/>
<circle cx="8891.00" cy="1098.42" r="6.1" fill="#10E0DC" stroke="#0A6060" stroke-width="1.5"/>
</g>
<g clip-path="url(#ci)">
<path d="M155.00 1043.62L179.27 1068.48L203.53 1091.27L227.80 1108.37L252.07 1150.32L276.33 1167.94L300.60 1182.96L324.87 1192.54" fill="none" stroke="#E2522F" stroke-width="2.5" stroke-linejoin="round"/>
<path d="M155.00 1035.72L162.90 1043.62L155.00 1051.52L147.10 1043.62Z" fill="#F8513C" stroke="#780C04" stroke-width="1.5" stroke-linejoin="miter"/>
<path d="M179.27 1060.58L187.17 1068.48L179.27 1076.38L171.37 1068.48Z" fill="#F8513C" stroke="#780C04" stroke-width="1.5" stroke-linejoin="miter"/>
<path d="M203.53 1083.37L211.43 1091.27L203.53 1099.17L195.63 1091.27Z" fill="#F8513C" stroke="#780C04" stroke-width="1.5" stroke-linejoin="miter"/>
<path d="M227.80 1100.47L235.70 1108.37L227.80 1116.27L219.90 1108.37Z" fill="#F8513C" stroke="#780C04" stroke-width="1.5" stroke-linejoin="miter"/>
<path d="M252.07 1142.42L259.97 1150.32L252.07 1158.22L244.17 1150.32Z" fill="#F8513C" stroke="#780C04" stroke-width="1.5" stroke-linejoin="miter"/>
<path d="M276.33 1160.04L284.23 1167.94L276.33 1175.84L268.43 1167.94Z" fill="#F8513C" stroke="#780C04" stroke-width="1.5" stroke-linejoin="miter"/>
<path d="M300.60 1175.06L308.50 1182.96L300.60 1190.86L292.70 1182.96Z" fill="#F8513C" stroke="#780C04" stroke-width="1.5" stroke-linejoin="miter"/>
<path d="M324.87 1184.64L332.77 1192.54L324.87 1200.44L316.97 1192.54Z" fill="#F8513C" stroke="#780C04" stroke-width="1.5" stroke-linejoin="miter"/>
</g>
<rect x="155" y="1024.8" width="233.50" height="180.70" fill="none" stroke="#000" stroke-width="2"/>
<path d="M155 1192.80h6.5M388.5 1192.80h-6.5M155 1141.00h6.5M388.5 1141.00h-6.5M155 1089.20h6.5M388.5 1089.20h-6.5M155 1037.40h6.5M388.5 1037.40h-6.5M155 1166.90h3.6M388.5 1166.90h-3.6M155 1115.10h3.6M388.5 1115.10h-3.6M155 1063.30h3.6M388.5 1063.30h-3.6M155.00 1024.8v6.5M155.00 1205.5v-6.5M227.80 1024.8v6.5M227.80 1205.5v-6.5M300.60 1024.8v6.5M300.60 1205.5v-6.5M373.40 1024.8v6.5M373.40 1205.5v-6.5M191.40 1024.8v3.6M191.40 1205.5v-3.6M264.20 1024.8v3.6M264.20 1205.5v-3.6M337.00 1024.8v3.6M337.00 1205.5v-3.6" stroke="#000" stroke-width="1.6" fill="none"/>
<text x="146.8" y="1201.60" text-anchor="end">0</text>
<text x="146.8" y="1149.80" text-anchor="end">10</text>
<text x="146.8" y="1098.00" text-anchor="end">20</text>
<text x="146.8" y="1046.20" text-anchor="end">30</text>
<text x="155.00" y="1233.50" text-anchor="middle">0.0</text>
<text x="227.80" y="1233.50" text-anchor="middle">0.5</text>
<text x="300.60" y="1233.50" text-anchor="middle">1.0</text>
<text x="373.40" y="1233.50" text-anchor="middle">1.5</text>
<text transform="translate(174 1338.2) scale(1 1.03)" font-size="35" textLength="243" lengthAdjust="spacing">Time (minutes)</text>
<text transform="translate(26.9 862.4) rotate(-90) scale(1 1.09)" font-size="35.5" textLength="329" lengthAdjust="spacing">HfO<tspan dy="9.5" font-size="24">2</tspan><tspan dy="-9.5"> thickness (nm)</tspan></text>
</svg></body></html>
